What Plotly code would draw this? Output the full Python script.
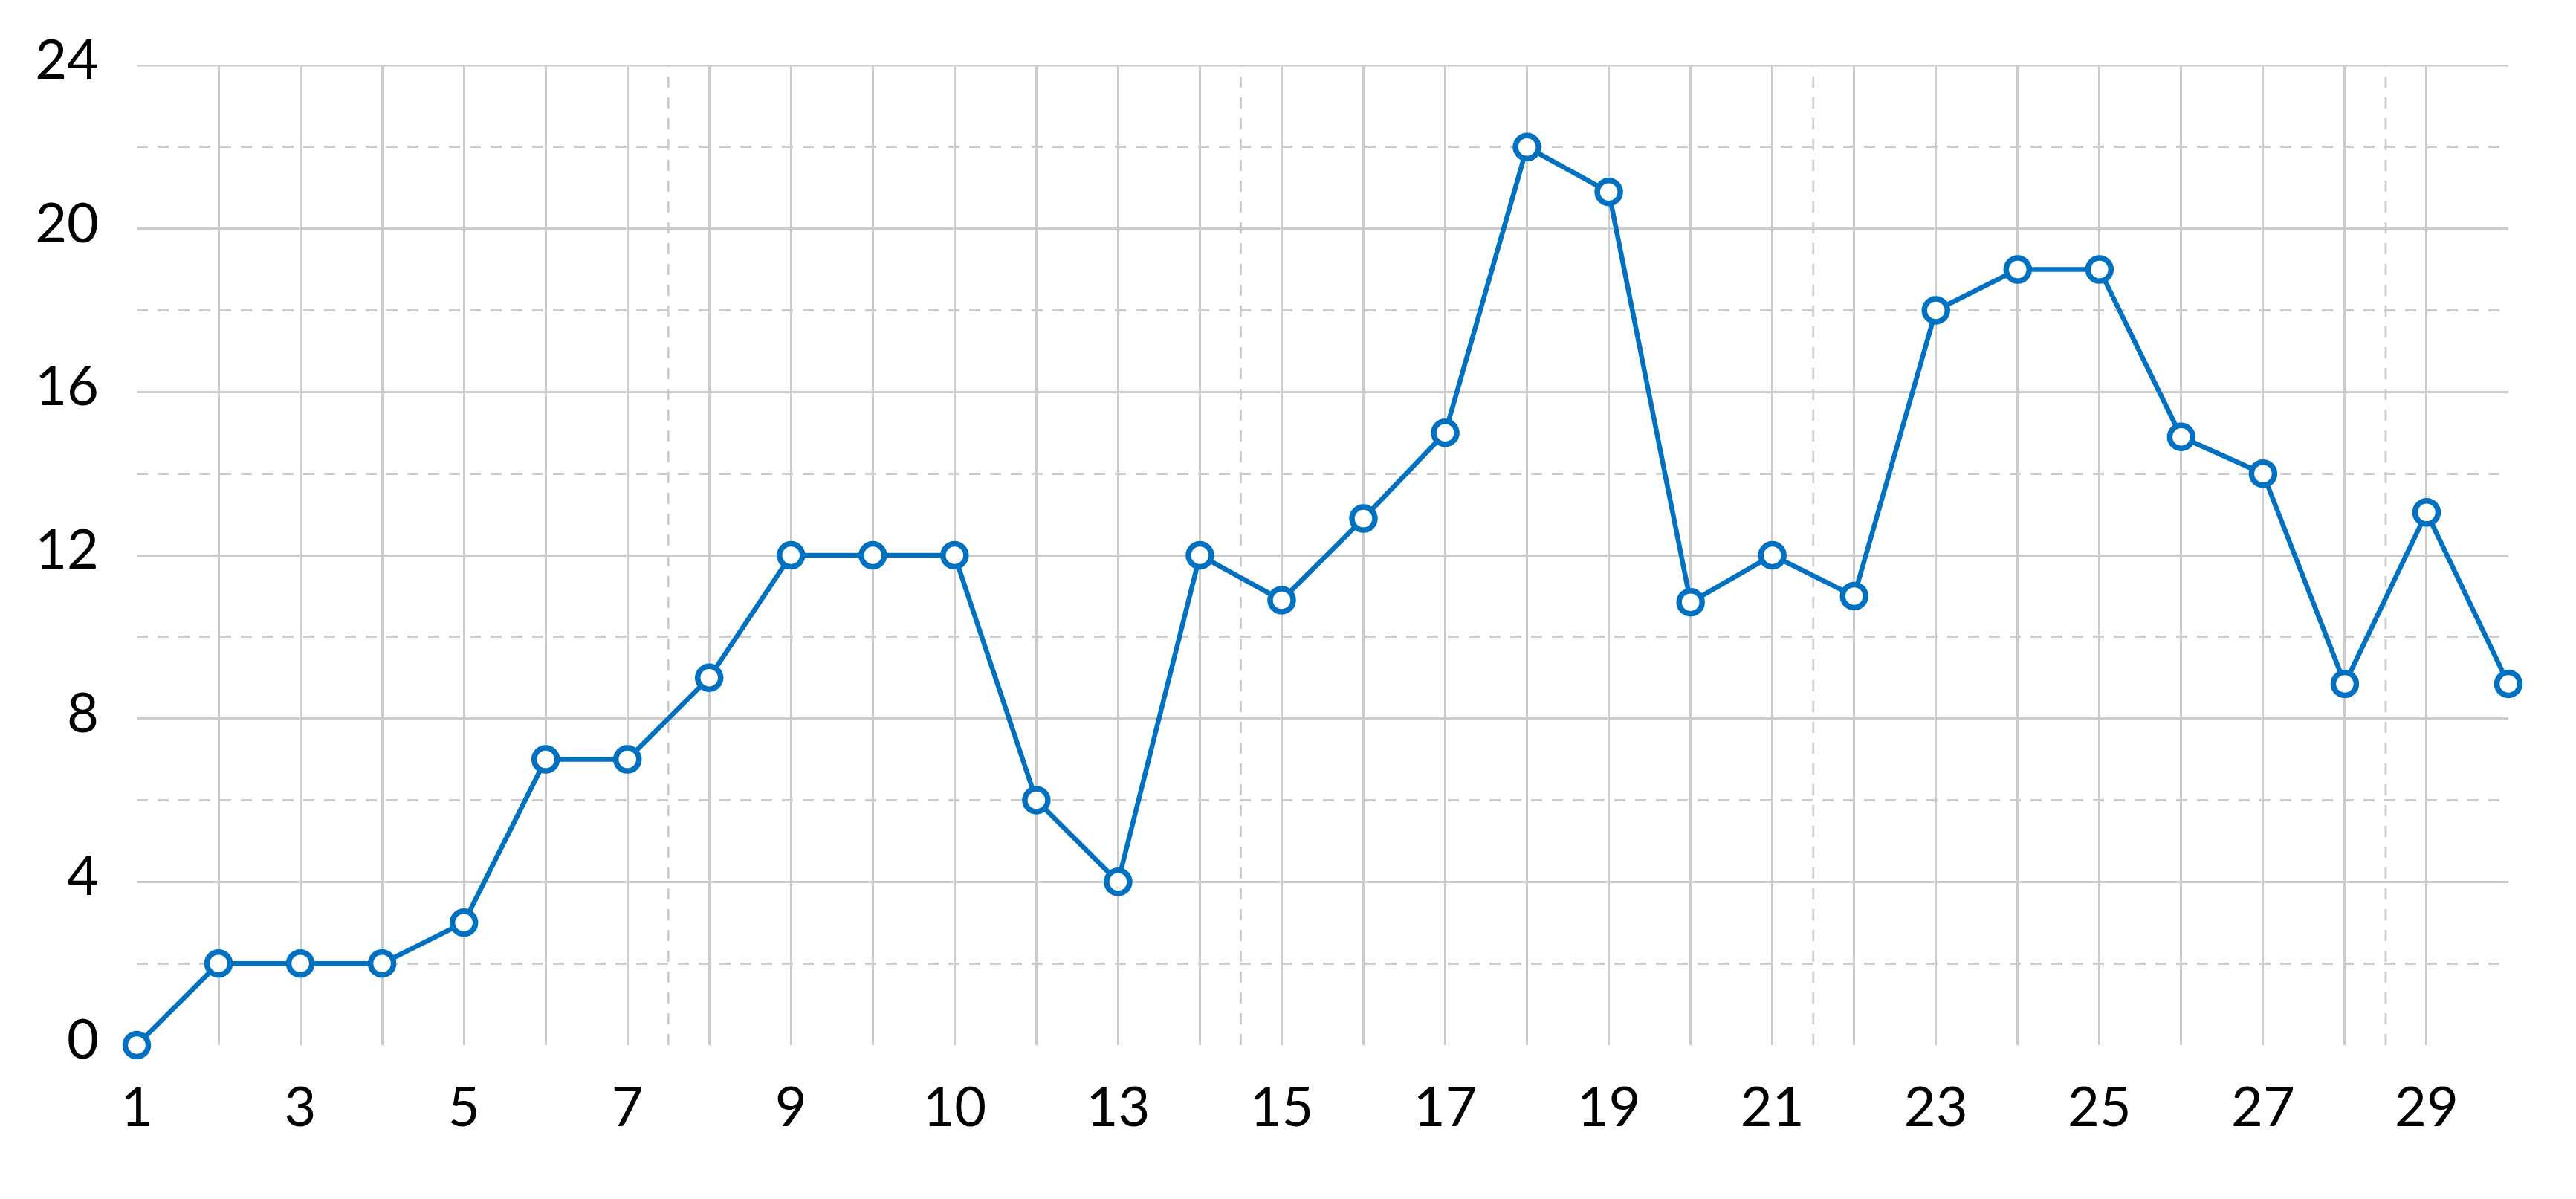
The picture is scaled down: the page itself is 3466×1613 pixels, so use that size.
import plotly.graph_objects as go

# Category labels (only every other one is shown on the axis)
day_labels = ["1", "2", "3", "4", "5", "6", "7", "8", "9", "9", "10", "12",
              "13", "14", "15", "16", "17", "18", "19", "20", "21", "22",
              "23", "24", "25", "26", "27", "28", "29", "30"]
values = [0, 2, 2, 2, 3, 7, 7, 9, 12, 12, 12, 6, 4, 12, 10.9, 12.9, 15, 22,
          20.9, 10.85, 12, 11, 18, 19, 19, 14.9, 14, 8.85, 13.05, 8.85]
y_ticks = [0, 4, 8, 12, 16, 20, 24]
week_length = 7

x_idx = list(range(len(values)))
shown_idx = x_idx[::2]
shown_text = [day_labels[i] for i in shown_idx]

BLUE = "#0070c0"
GRID = "#cccccc"
FONT = "Lato"
GW = 2.8

fig = go.Figure()
fig.add_trace(go.Scatter(
    x=x_idx, y=values, mode="lines+markers",
    line=dict(color=BLUE, width=6.5),
    marker=dict(size=31, color="white", line=dict(color=BLUE, width=7.5)),
    cliponaxis=False, showlegend=False,
))

# week separators (dashed vertical lines)
for k in range(week_length, len(values), week_length):
    fig.add_shape(type="line", xref="x", yref="y",
                  x0=k - 0.5, x1=k - 0.5, y0=y_ticks[0], y1=y_ticks[-1],
                  line=dict(color=GRID, width=GW, dash="15px,13px"),
                  layer="below")

fig.update_layout(
    width=3450, height=1597,
    margin=dict(l=176, r=83, t=80, b=199),
    paper_bgcolor="white", plot_bgcolor="white",
    font=dict(family=FONT, size=74, color="black"),
)
fig.update_xaxes(
    range=[x_idx[0], x_idx[-1]],
    tickvals=shown_idx, ticktext=shown_text,
    showgrid=True, gridcolor=GRID, gridwidth=GW,
    minor=dict(tickvals=x_idx, showgrid=True, gridcolor=GRID, gridwidth=GW),
    zeroline=False, showline=False, ticks="",
    ticklabelstandoff=34,
)
fig.update_yaxes(
    range=[y_ticks[0], y_ticks[-1]],
    tickvals=y_ticks,
    showgrid=True, gridcolor=GRID, gridwidth=GW,
    minor=dict(dtick=2, showgrid=True, gridcolor=GRID, gridwidth=GW,
               griddash="15px,13px"),
    zeroline=False, showline=False, ticks="",
    ticklabelstandoff=50, ticklabelshift=-8,
)
fig.add_shape(type="line", xref="paper", yref="y", x0=0, x1=1, y0=y_ticks[-1], y1=y_ticks[-1],
              line=dict(color=GRID, width=GW), layer="below")

fig.write_html("out.html")
